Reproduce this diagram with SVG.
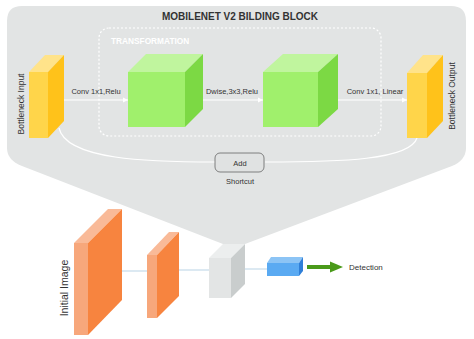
<svg xmlns="http://www.w3.org/2000/svg" width="474" height="339" viewBox="0 0 474 339">
<style>
text{font-family:"Liberation Sans",Arial,sans-serif;fill:#333}
.lbl{font-size:7.5px}
.flow{stroke:#fff;stroke-width:1.2;fill:none}
.low{stroke:#c5dbe9;stroke-width:1.2;fill:none}
.yf{fill:#ffd54a}.ys{fill:#ffc21a}.yt{fill:#ffe38a}
.gf{fill:#a0f06c}.gs{fill:#7cd944}.gt{fill:#c0f59e}
.of{fill:#f7a77b}.os{fill:#f7843f}.ot{fill:#f9ba98}
</style>
<defs>
<marker id="wa" markerWidth="6" markerHeight="6" refX="5" refY="3" orient="auto" markerUnits="userSpaceOnUse">
<path d="M0,0.5 L5,3 L0,5.5 Z" fill="#fff"/>
</marker>
</defs>
<rect width="474" height="339" fill="#fff"/>
<g id="panel">
<path d="M22,6 H451 Q466,6 466,21 V148 Q466,160 452,166 L245,244 H223 L22,166 Q7,160 7,148 V21 Q7,6 22,6 Z" fill="#e2e4e4"/>
<text x="240" y="20" text-anchor="middle" font-size="10" font-weight="bold">MOBILENET V2 BILDING BLOCK</text>
<rect x="99" y="28" width="282" height="108" rx="10" fill="none" stroke="#fff" stroke-width="1.2" stroke-dasharray="2,2"/>
<text x="111" y="44" font-size="8.3" font-weight="bold" style="fill:#fff">TRANSFORMATION</text>
</g>
<g id="connectors">
<line class="flow" x1="64" y1="100" x2="128" y2="100" marker-end="url(#wa)"/>
<line class="flow" x1="203" y1="100" x2="263" y2="100" marker-end="url(#wa)"/>
<line class="flow" x1="338" y1="100" x2="407" y2="100" marker-end="url(#wa)"/>
<path class="flow" d="M59,128 C66,160 150,162 215,162"/>
<path class="flow" d="M265,162 C340,162 410,160 417,138"/>
<line class="low" x1="122" y1="271" x2="147" y2="271"/>
<line class="low" x1="179" y1="270" x2="209" y2="270"/>
<line class="low" x1="245" y1="269" x2="267" y2="269"/>
<line x1="307" y1="267" x2="331" y2="267" stroke="#4a9a1a" stroke-width="4"/>
<path d="M330,261.5 L343,267 L330,272.5 Z" fill="#4a9a1a"/>
<text class="lbl" x="96" y="94" text-anchor="middle">Conv 1x1,Relu</text>
<text class="lbl" x="232" y="94" text-anchor="middle">Dwise,3x3,Relu</text>
<text class="lbl" x="375" y="94" text-anchor="middle">Conv 1x1, Linear</text>
</g>
<g id="bottleneck-input">
<polygon class="yt" points="29,72 48,72 64,55 45,55"/>
<polygon class="ys" points="48,72 64,55 64,121 48,138"/>
<rect class="yf" x="29" y="72" width="19" height="66"/>
<text x="24" y="104" font-size="8.5" text-anchor="middle" transform="rotate(-90 24 104)">Bottleneck Input</text>
</g>
<g id="transform-1">
<polygon class="gt" points="128,72 185,72 203,54 146,54"/>
<polygon class="gs" points="185,72 203,54 203,109 185,127"/>
<rect class="gf" x="128" y="72" width="57" height="55"/>
</g>
<g id="transform-2">
<polygon class="gt" points="263,72 318,72 338,54 283,54"/>
<polygon class="gs" points="318,72 338,54 338,109 318,127"/>
<rect class="gf" x="263" y="72" width="55" height="55"/>
</g>
<g id="bottleneck-output">
<polygon class="yt" points="407,73 427,73 443,55 423,55"/>
<polygon class="ys" points="427,73 443,55 443,121 427,138"/>
<rect class="yf" x="407" y="73" width="20" height="65"/>
<text x="455" y="96" font-size="8.5" text-anchor="middle" transform="rotate(-90 455 96)">Bottleneck Output</text>
</g>
<g id="add">
<rect x="215" y="153" width="49" height="19" rx="5" fill="#e0e2e2" stroke="#666" stroke-width="0.8"/>
<text class="lbl" x="240" y="166" text-anchor="middle">Add</text>
<text class="lbl" x="240" y="184" text-anchor="middle">Shortcut</text>
</g>
<g id="initial-image">
<polygon class="ot" points="74,243 88,243 122,209 108,209"/>
<polygon class="os" points="88,243 122,209 122,300 88,335"/>
<rect class="of" x="74" y="243" width="14" height="92"/>
<text x="68" y="288" font-size="10.5" text-anchor="middle" transform="rotate(-90 68 288)">Initial Image</text>
</g>
<g id="feature-2">
<polygon class="ot" points="147,255 157,255 179,232 169,232"/>
<polygon class="os" points="157,255 179,232 179,296 157,318"/>
<rect class="of" x="147" y="255" width="10" height="63"/>
</g>
<g id="mobilenet-block">
<polygon points="209,258 231,258 245,244 223,244" fill="#eceeee"/>
<polygon points="231,258 245,244 245,284 231,298" fill="#c9cdcd"/>
<rect x="209" y="258" width="22" height="40" fill="#e3e5e5"/>
</g>
<g id="output-block">
<polygon points="267,263 299,263 303,257 271,257" fill="#8cc4f5"/>
<polygon points="299,263 303,257 303,271 299,276" fill="#2f7fd8"/>
<rect x="267" y="263" width="32" height="13" fill="#5aaaf2"/>
</g>
<g id="detection">
<text x="349" y="270" font-size="8">Detection</text>
</g>
</svg>
